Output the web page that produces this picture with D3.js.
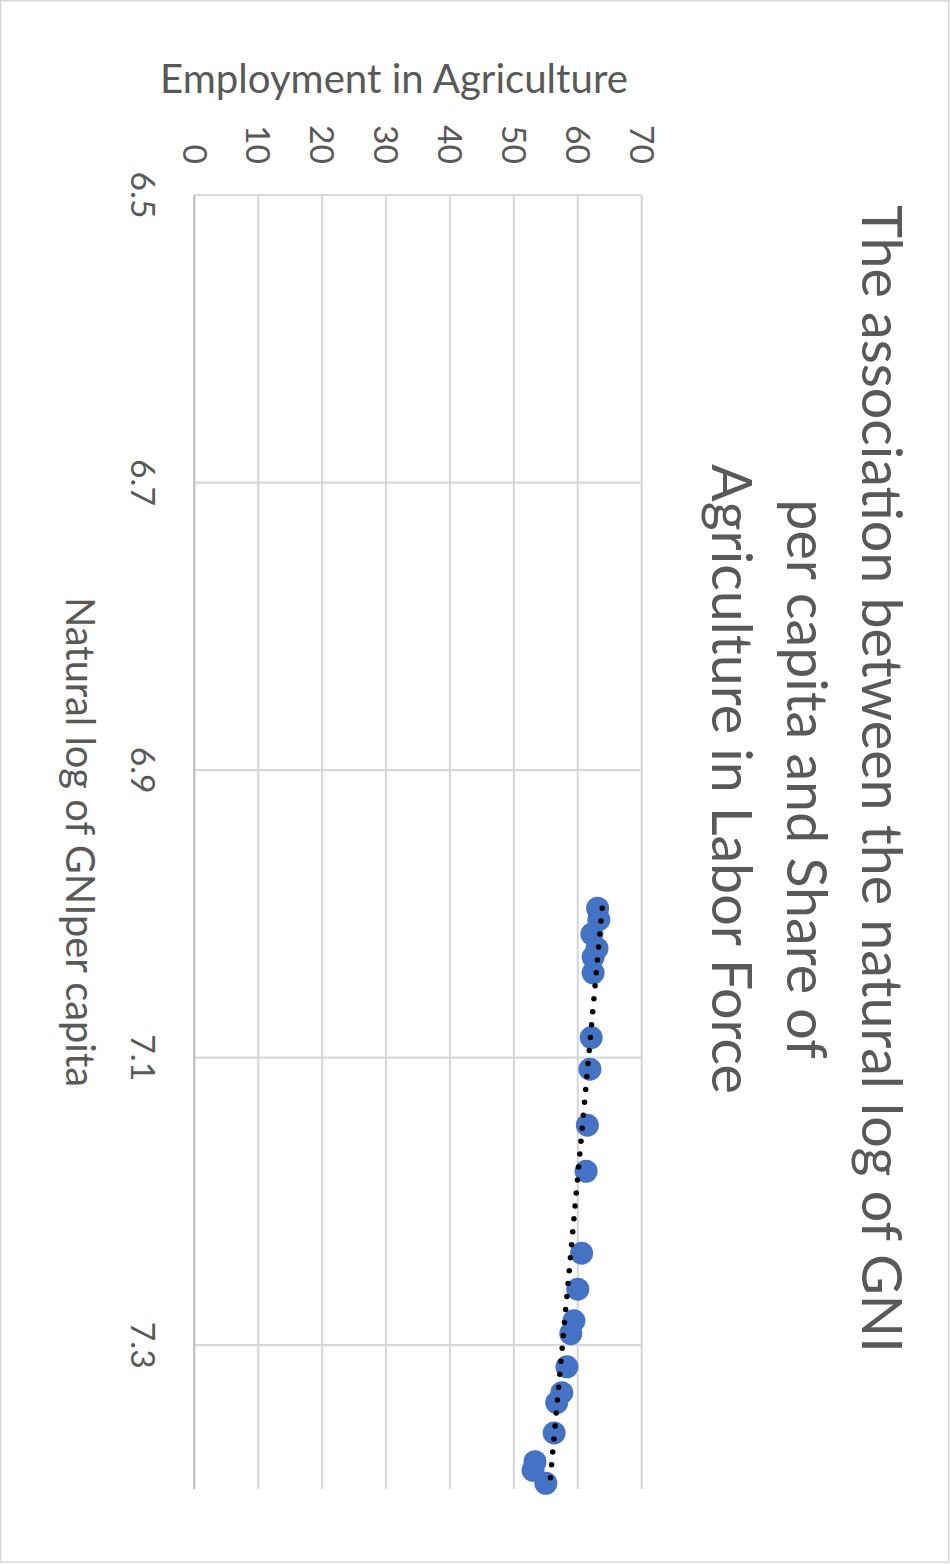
<!DOCTYPE html>
<html>
<head>
<meta charset="utf-8">
<script src="https://cdn.jsdelivr.net/npm/d3@7"></script>
<style>
  body { margin: 0; background: #fff; }
  text { font-family: Lato, "Noto Sans", sans-serif; fill: #595959; }
</style>
</head>
<body>
<div id="chart"></div>
<script>
// natural log of GNI per capita and share of employment in agriculture (%)
var lnGNI = [6.996, 7.004, 7.014, 7.024, 7.030, 7.041, 7.086, 7.108, 7.147, 7.179,
             7.236, 7.261, 7.283, 7.292, 7.315, 7.333, 7.340, 7.361, 7.381, 7.387, 7.396];
var agriEmployment = [63.1, 63.3, 62.2, 63.0, 62.4, 62.4, 62.1, 61.9, 61.5, 61.3,
                      60.6, 60.0, 59.4, 58.9, 58.3, 57.5, 56.7, 56.3, 53.3, 53.0, 55.0];
var gniTicks = [6.5, 6.7, 6.9, 7.1, 7.3];
var empTicks = [0, 10, 20, 30, 40, 50, 60, 70];
var titleLines = ["The association between the natural log of GNI",
                  "per capita and Share of",
                  "Agriculture in Labor Force"];

var w = 950;
var h = 1564;

var svg = d3.select("#chart")
    .append("svg")
    .attr("width", w)
    .attr("height", h);

// chart is drawn turned a quarter turn: GNI runs down, employment runs right
var x = d3.scaleLinear().domain([0, 70]).range([194.3, 641.7]);
var y = d3.scaleLinear().domain([6.5, 7.4]).range([195, 1489]);

// scale a text's font so it spans a given length
function fit(sel, target) {
    var len = sel.node().getComputedTextLength();
    var fs = parseFloat(sel.style("font-size"));
    sel.style("font-size", (fs * target / len) + "px");
    return fs * target / len;
}

svg.append("rect")
    .attr("x", 0.75).attr("y", 0.75)
    .attr("width", w - 2).attr("height", h - 2.5)
    .attr("fill", "none")
    .attr("stroke", "#d9d9d9")
    .attr("stroke-width", 1.5);

// gridlines
svg.selectAll("line.hgrid")
    .data(gniTicks)
    .enter()
    .append("line")
    .attr("class", "hgrid")
    .attr("x1", x(0)).attr("x2", x(70))
    .attr("y1", function (d) { return y(d); })
    .attr("y2", function (d) { return y(d); })
    .attr("stroke", "#d9d9d9")
    .attr("stroke-width", 2.2);

svg.selectAll("line.vgrid")
    .data(empTicks.slice(1))
    .enter()
    .append("line")
    .attr("class", "vgrid")
    .attr("x1", function (d) { return x(d); })
    .attr("x2", function (d) { return x(d); })
    .attr("y1", y(6.5)).attr("y2", y(7.4))
    .attr("stroke", "#d9d9d9")
    .attr("stroke-width", 2.2);

// axis line at employment = 0
svg.append("line")
    .attr("x1", x(0)).attr("x2", x(0))
    .attr("y1", y(6.5)).attr("y2", y(7.4))
    .attr("stroke", "#bfbfbf")
    .attr("stroke-width", 2.2);

// tick labels (turned)
var probe = svg.append("text").text("6.5").style("font-size", "30px");
var tickSize = fit(probe, 47);
probe.remove();

svg.selectAll("text.gnitick")
    .data(gniTicks)
    .enter()
    .append("text")
    .attr("class", "gnitick")
    .attr("transform", function (d) { return "translate(131," + y(d) + ") rotate(90)"; })
    .attr("text-anchor", "middle")
    .style("font-size", tickSize + "px")
    .text(function (d) { return d3.format(".1f")(d); });

svg.selectAll("text.emptick")
    .data(empTicks)
    .enter()
    .append("text")
    .attr("class", "emptick")
    .attr("transform", function (d) { return "translate(" + x(d) + ",164) rotate(90)"; })
    .attr("text-anchor", "end")
    .attr("dy", "0.35em")
    .style("font-size", tickSize + "px")
    .text(function (d) { return d; });

// axis titles
var empTitle = svg.append("text")
    .attr("x", 394)
    .attr("y", 93)
    .attr("text-anchor", "middle")
    .style("font-size", "30px")
    .text("Employment in Agriculture");
fit(empTitle, 468);

var gniTitle = svg.append("text")
    .attr("transform", "translate(66,842) rotate(90)")
    .attr("text-anchor", "middle")
    .style("font-size", "30px")
    .text("Natural log of GNIper capita");
fit(gniTitle, 490);

// chart title (turned)
var titleBase = [862, 787, 712];
var t0 = svg.append("text").style("font-size", "40px").text(titleLines[0]);
var titleSize = fit(t0, 1148);
t0.remove();

svg.selectAll("text.title")
    .data(titleLines)
    .enter()
    .append("text")
    .attr("class", "title")
    .attr("transform", function (d, i) { return "translate(" + titleBase[i] + ",779) rotate(90)"; })
    .attr("text-anchor", "middle")
    .style("font-size", titleSize + "px")
    .text(function (d) { return d; });

// points
var pts = lnGNI.map(function (g, i) { return { g: g, e: agriEmployment[i] }; });

svg.selectAll("circle")
    .data(pts)
    .enter()
    .append("circle")
    .attr("cx", function (d) { return x(d.e); })
    .attr("cy", function (d) { return y(d.g); })
    .attr("r", 11.5)
    .attr("fill", "#4472c4");

// linear trendline
var mg = d3.mean(lnGNI), me = d3.mean(agriEmployment);
var sxy = d3.sum(pts, function (d) { return (d.g - mg) * (d.e - me); });
var sxx = d3.sum(pts, function (d) { return (d.g - mg) * (d.g - mg); });
var slope = sxy / sxx;
var icpt = me - slope * mg;
var gExt = d3.extent(lnGNI);

svg.append("line")
    .attr("x1", x(icpt + slope * gExt[0]))
    .attr("y1", y(gExt[0]))
    .attr("x2", x(icpt + slope * gExt[1]))
    .attr("y2", y(gExt[1]))
    .attr("stroke", "#000")
    .attr("stroke-width", 5.5)
    .attr("stroke-linecap", "round")
    .attr("stroke-dasharray", "0 13");
</script>
</body>
</html>
